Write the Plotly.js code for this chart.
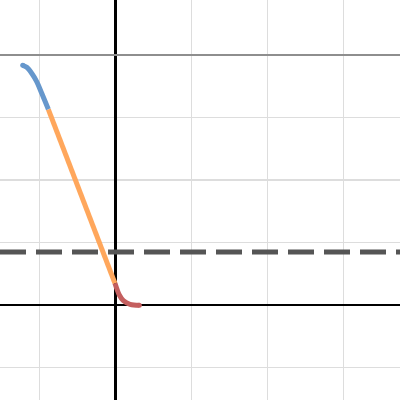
<!DOCTYPE html>
<html>
<head>
<meta charset="utf-8">
<script src="https://cdn.plot.ly/plotly-3.0.1.min.js"></script>
<style>
  html, body { margin: 0; padding: 0; background: #fff; }
  #chart { width: 400px; height: 400px; }
</style>
</head>
<body>
<div id="chart"></div>
<script>
// piecewise curve
const blueX = [-1.221, -1.168, -1.103, -1.037, -0.971, -0.884];
const blueY = [3.835, 3.803, 3.707, 3.573, 3.387, 3.131];

const orangeX = [-0.884, -0.007];
const orangeY = [3.131, 0.347];

const redX = [-0.007, 0.015, 0.050, 0.103, 0.191, 0.313];
const redY = [0.347, 0.267, 0.160, 0.069, 0.011, -0.005];

// horizontal reference lines
const solidLevel = [4];
const dashedLevel = [0.85];

const blue = "#6697cc", orange = "#ffa75c", red = "#c45f5f";

// round ends at the open ends of the curve
function ends(xs, ys, color, which) {
  const i = which === "first" ? 0 : xs.length - 1;
  return { x: [xs[i]], y: [ys[i]], mode: "markers",
    marker: { color: color, size: 5, line: { width: 0 } }, hoverinfo: "skip" };
}

const data = [
  { x: orangeX, y: orangeY, mode: "lines", line: { color: orange, width: 5 }, hoverinfo: "skip" },
  { x: blueX, y: blueY, mode: "lines", line: { color: blue, width: 5, shape: "spline" }, hoverinfo: "skip" },
  { x: redX, y: redY, mode: "lines", line: { color: red, width: 5, shape: "spline" }, hoverinfo: "skip" },
  ends(blueX, blueY, blue, "first"),
  ends(redX, redY, red, "last")
];

const shapes = [];
solidLevel.forEach(v => shapes.push({
  type: "line", xref: "paper", x0: 0, x1: 1, yref: "y", y0: v, y1: v,
  line: { color: "#8e8e8e", width: 1.8 }
}));
dashedLevel.forEach(v => shapes.push({
  type: "line", xref: "paper", x0: 0, x1: 1, yref: "y", y0: v, y1: v,
  line: { color: "#555555", width: 5, dash: "26px,10px" }
}));

const layout = {
  width: 400,
  height: 400,
  margin: { l: 0, r: 0, t: 0, b: 0 },
  showlegend: false,
  paper_bgcolor: "#fff",
  plot_bgcolor: "#fff",
  xaxis: {
    range: [-1.52, 3.743], dtick: 1, showticklabels: false,
    gridcolor: "#dddddd", gridwidth: 1.5,
    zeroline: true, zerolinecolor: "#000", zerolinewidth: 2.5,
    fixedrange: true
  },
  yaxis: {
    range: [-1.52, 4.88], dtick: 1, showticklabels: false,
    gridcolor: "#dddddd", gridwidth: 1.5,
    zeroline: true, zerolinecolor: "#000", zerolinewidth: 2.5,
    fixedrange: true
  },
  shapes: shapes
};

Plotly.newPlot("chart", data, layout, { displayModeBar: false, staticPlot: true });
</script>
</body>
</html>
